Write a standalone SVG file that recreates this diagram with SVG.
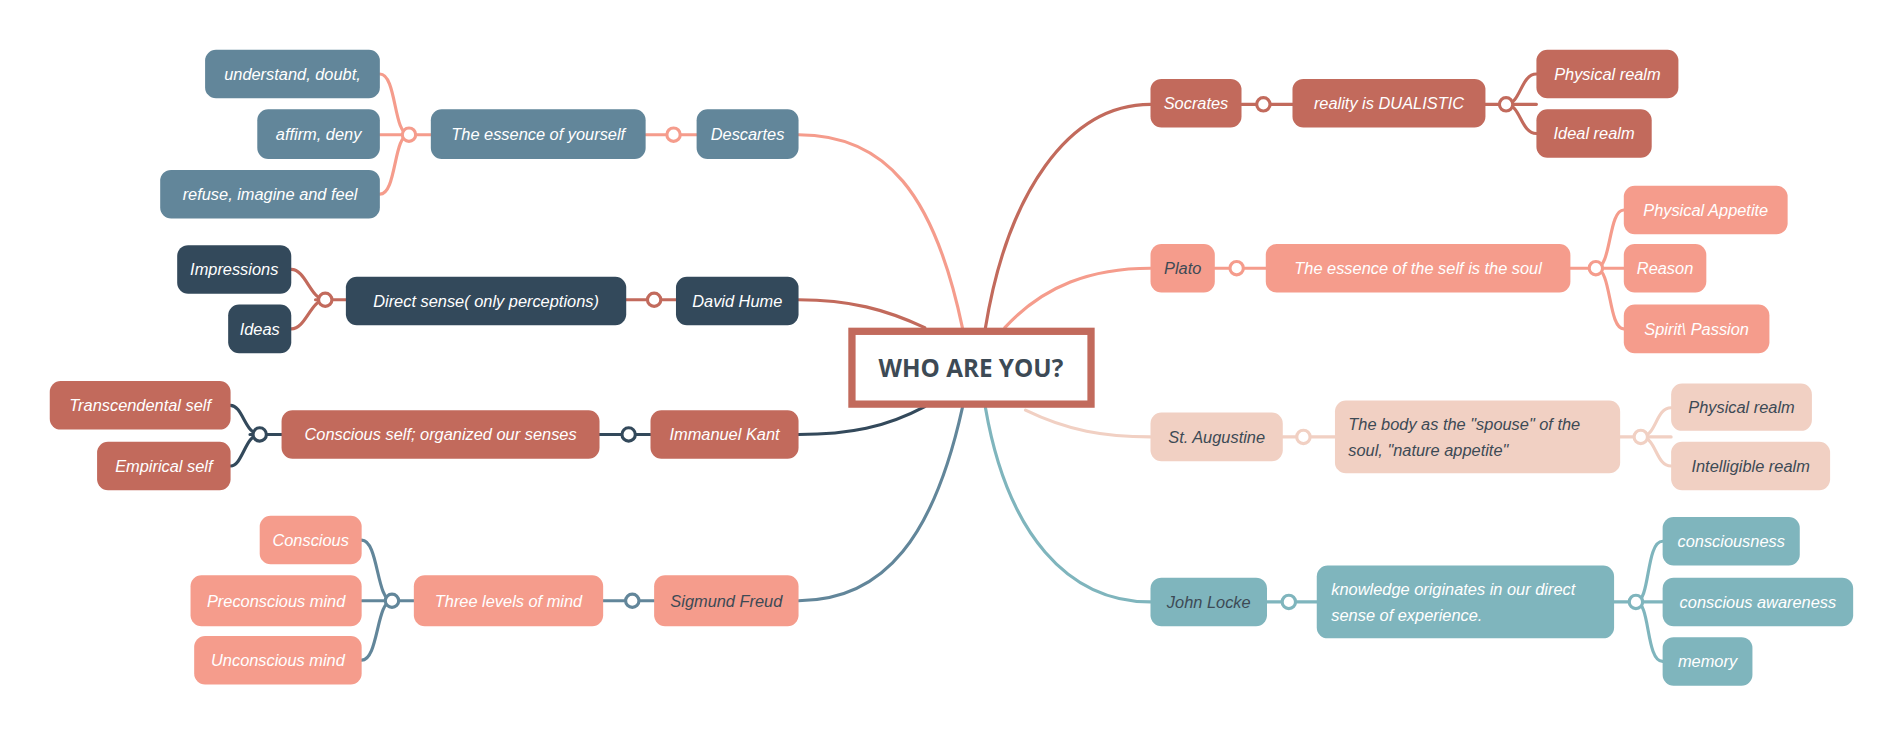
<svg xmlns="http://www.w3.org/2000/svg" width="1903" height="738" viewBox="0 0 1903 738">
<style>
text{font-family:"Liberation Sans",Arial,sans-serif;font-style:italic;font-size:13.5px;dominant-baseline:central;text-anchor:middle}
.w{fill:#ffffff}.d{fill:#3d4a55}
.c{fill:none;stroke-width:2.6;stroke-linecap:round}
.k{fill:#ffffff;stroke-width:2.6}
.sl{fill:#62869a}.nv{fill:#33495b}.rd{fill:#c26a5c}.sa{fill:#f59c8c}.pk{fill:#f1d0c3}.tl{fill:#7fb5bd}
</style>
<rect width="1903" height="738" fill="#ffffff"/>
<g transform="scale(1.2136)">
<g id="connectors">
<g stroke="#f59c8c" class="c">
<path class="c" stroke="#f59c8c" d="M793,270 C770,160 730,111 658,111"/>
<path class="c" stroke="#f59c8c" d="M574,111 H532 M355,111 H313 M337,111 C324,111 327,61 313,61 M337,111 C324,111 327,160 313,160"/>
</g>
<path class="c" stroke="#c26a5c" d="M762,270 C730,255 700,247 658,247 M557,247 H516 M285,247 H260 M268,247 C256,247 252,222 240,222 M268,247 C256,247 252,271 240,271"/>
<path class="c" stroke="#33495b" d="M762,335 C730,352 700,358 658,358 M536,358 H494 M232,358 H206 M214,358 C202,358 200,334 190,334 M214,358 C202,358 200,384 190,384"/>
<path class="c" stroke="#62869a" d="M793,336 C770,440 730,495 658,495 M539,495 H497 M341,495 H298 M323,495 C310,495 312,445 298,445 M323,495 C310,495 312,544 298,544"/>
<path class="c" stroke="#c26a5c" d="M812,270 C830,160 880,86 948,86 M1023,86 H1066 M1222,86 H1266 M1241,86 C1253,86 1253,61 1266,61 M1241,86 C1253,86 1253,110 1266,110"/>
<path class="c" stroke="#f59c8c" d="M828,270 C860,235 900,221 948,221 M1001,221 H1043 M1294,221 H1338 M1315,221 C1328,221 1325,173 1338,173 M1315,221 C1328,221 1325,271 1338,271"/>
<path class="c" stroke="#f1d0c3" d="M845,338 C880,355 910,360 948,360 M1057,360 H1100 M1335,360 H1377 M1352,360 C1365,360 1364,336 1377,336 M1352,360 C1365,360 1364,384 1377,384"/>
<path class="c" stroke="#7fb5bd" d="M812,336 C830,440 880,496 948,496 M1044,496 H1085 M1330,496 H1370 M1348,496 C1360,496 1356,446 1370,446 M1348,496 C1360,496 1356,545 1370,545"/>
<g class="k">
<circle cx="337" cy="111" r="5.5" stroke="#f59c8c"/><circle cx="555" cy="111" r="5.5" stroke="#f59c8c"/>
<circle cx="268" cy="247" r="5.5" stroke="#c26a5c"/><circle cx="539" cy="247" r="5.5" stroke="#c26a5c"/>
<circle cx="214" cy="358" r="5.5" stroke="#33495b"/><circle cx="518" cy="358" r="5.5" stroke="#33495b"/>
<circle cx="323" cy="495" r="5.5" stroke="#62869a"/><circle cx="521" cy="495" r="5.5" stroke="#62869a"/>
<circle cx="1041" cy="86" r="5.5" stroke="#c26a5c"/><circle cx="1241" cy="86" r="5.5" stroke="#c26a5c"/>
<circle cx="1019" cy="221" r="5.5" stroke="#f59c8c"/><circle cx="1315" cy="221" r="5.5" stroke="#f59c8c"/>
<circle cx="1074" cy="360" r="5.5" stroke="#f1d0c3"/><circle cx="1352" cy="360" r="5.5" stroke="#f1d0c3"/>
<circle cx="1062" cy="496" r="5.5" stroke="#7fb5bd"/><circle cx="1348" cy="496" r="5.5" stroke="#7fb5bd"/>
</g>
</g>
<g id="center"><rect x="702" y="273" width="197" height="60" fill="#ffffff" stroke="#c26a5c" stroke-width="6"/><text x="800" y="303" style="font-style:normal;font-weight:bold;font-size:20px;font-family:'Open Sans','Liberation Sans',sans-serif" fill="#3d4a55">WHO ARE YOU?</text></g>
<g id="descartes"><rect class="sl" x="574" y="90" width="84" height="41" rx="9"/><text class="w" x="616" y="110.5">Descartes</text></g>
<g id="essence-yourself"><rect class="sl" x="355" y="90" width="177" height="41" rx="9"/><text class="w" x="443.5" y="110.5">The essence of yourself</text></g>
<g id="understand"><rect class="sl" x="169" y="41" width="144" height="40" rx="9"/><text class="w" x="241" y="61">understand, doubt,</text></g>
<g id="affirm"><rect class="sl" x="212" y="90" width="101" height="41" rx="9"/><text class="w" x="262.5" y="110.5">affirm, deny</text></g>
<g id="refuse"><rect class="sl" x="132" y="140" width="181" height="40" rx="9"/><text class="w" x="222.5" y="160">refuse, imagine and feel</text></g>
<g id="hume"><rect class="nv" x="557" y="228" width="101" height="40" rx="9"/><text class="w" x="607.5" y="248">David Hume</text></g>
<g id="direct-sense"><rect class="nv" x="285" y="228" width="231" height="40" rx="9"/><text class="w" x="400.5" y="248">Direct sense( only perceptions)</text></g>
<g id="impressions"><rect class="nv" x="146" y="202" width="94" height="40" rx="9"/><text class="w" x="193" y="222">Impressions</text></g>
<g id="ideas"><rect class="nv" x="188" y="251" width="52" height="40" rx="9"/><text class="w" x="214" y="271">Ideas</text></g>
<g id="kant"><rect class="rd" x="536" y="338" width="122" height="40" rx="9"/><text class="w" x="597" y="358">Immanuel Kant</text></g>
<g id="conscious-self"><rect class="rd" x="232" y="338" width="262" height="40" rx="9"/><text class="w" x="363" y="358">Conscious self; organized our senses</text></g>
<g id="transcendental"><rect class="rd" x="41" y="314" width="149" height="40" rx="9"/><text class="w" x="115.5" y="334">Transcendental self</text></g>
<g id="empirical"><rect class="rd" x="80" y="364" width="110" height="40" rx="9"/><text class="w" x="135" y="384">Empirical self</text></g>
<g id="freud"><rect class="sa" x="539" y="474" width="119" height="42" rx="9"/><text class="d" x="598.5" y="495">Sigmund Freud</text></g>
<g id="three-levels"><rect class="sa" x="341" y="474" width="156" height="42" rx="9"/><text class="w" x="419" y="495">Three levels of mind</text></g>
<g id="conscious"><rect class="sa" x="214" y="425" width="84" height="40" rx="9"/><text class="w" x="256" y="445">Conscious</text></g>
<g id="preconscious"><rect class="sa" x="157" y="474" width="141" height="42" rx="9"/><text class="w" x="227.5" y="495">Preconscious mind</text></g>
<g id="unconscious"><rect class="sa" x="160" y="524" width="138" height="40" rx="9"/><text class="w" x="229" y="544">Unconscious mind</text></g>
<g id="socrates"><rect class="rd" x="948" y="65" width="75" height="40" rx="9"/><text class="w" x="985.5" y="85">Socrates</text></g>
<g id="dualistic"><rect class="rd" x="1065" y="65" width="159" height="40" rx="9"/><text class="w" x="1144.5" y="85">reality is DUALISTIC</text></g>
<g id="physical-realm-1"><rect class="rd" x="1266" y="41" width="117" height="40" rx="9"/><text class="w" x="1324.5" y="61">Physical realm</text></g>
<g id="ideal-realm"><rect class="rd" x="1266" y="90" width="95" height="40" rx="9"/><text class="w" x="1313.5" y="110">Ideal realm</text></g>
<g id="plato"><rect class="sa" x="948" y="201" width="53" height="40" rx="9"/><text class="d" x="974.5" y="221">Plato</text></g>
<g id="essence-soul"><rect class="sa" x="1043" y="201" width="251" height="40" rx="9"/><text class="w" x="1168.5" y="221">The essence of the self is the soul</text></g>
<g id="appetite"><rect class="sa" x="1338" y="153" width="135" height="40" rx="9"/><text class="w" x="1405.5" y="173">Physical Appetite</text></g>
<g id="reason"><rect class="sa" x="1338" y="201" width="68" height="40" rx="9"/><text class="w" x="1372" y="221">Reason</text></g>
<g id="spirit"><rect class="sa" x="1338" y="251" width="120" height="40" rx="9"/><text class="w" x="1398" y="271">Spirit\ Passion</text></g>
<g id="augustine"><rect class="pk" x="948" y="340" width="109" height="40" rx="9"/><text class="d" x="1002.5" y="360">St. Augustine</text></g>
<g id="body-spouse"><rect class="pk" x="1100" y="330" width="235" height="60" rx="9"/><text class="d" x="1111" y="349" style="text-anchor:start">The body as the "spouse" of the</text><text class="d" x="1111" y="371" style="text-anchor:start">soul, "nature appetite"</text></g>
<g id="physical-realm-2"><rect class="pk" x="1377" y="316" width="116" height="39" rx="9"/><text class="d" x="1435" y="335.5">Physical realm</text></g>
<g id="intelligible"><rect class="pk" x="1377" y="364" width="131" height="40" rx="9"/><text class="d" x="1442.5" y="384">Intelligible realm</text></g>
<g id="locke"><rect class="tl" x="948" y="476" width="96" height="40" rx="9"/><text class="d" x="996" y="496">John Locke</text></g>
<g id="knowledge"><rect class="tl" x="1085" y="466" width="245" height="60" rx="9"/><text class="w" x="1097" y="485" style="text-anchor:start">knowledge originates in our direct</text><text class="w" x="1097" y="507" style="text-anchor:start">sense of experience.</text></g>
<g id="consciousness"><rect class="tl" x="1370" y="426" width="113" height="40" rx="9"/><text class="w" x="1426.5" y="446">consciousness</text></g>
<g id="awareness"><rect class="tl" x="1370" y="476" width="157" height="40" rx="9"/><text class="w" x="1448.5" y="496">conscious awareness</text></g>
<g id="memory"><rect class="tl" x="1370" y="525" width="74" height="40" rx="9"/><text class="w" x="1407" y="545">memory</text></g>
</g>
</svg>
